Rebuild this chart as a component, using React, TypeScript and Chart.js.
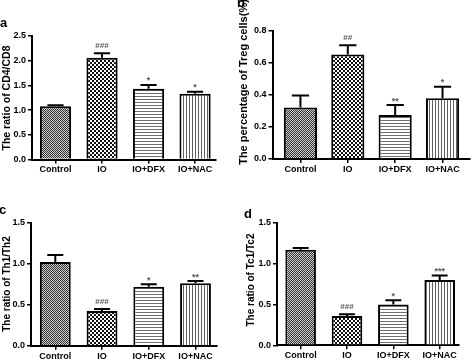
import React, { useEffect, useRef } from "react";
import { Chart, registerables } from "chart.js";

Chart.register(...registerables);

const categories = ["Control", "IO", "IO+DFX", "IO+NAC"];

const cd4cd8Means = [1.08, 2.06, 1.43, 1.33];
const cd4cd8Errors = [0.02, 0.09, 0.08, 0.04];
const cd4cd8Marks = ["", "###", "*", "*"];
const cd4cd8Ticks = [0, 0.5, 1.0, 1.5, 2.0, 2.5];

const tregMeans = [0.32, 0.65, 0.274, 0.378];
const tregErrors = [0.075, 0.058, 0.062, 0.072];
const tregMarks = ["", "##", "**", "*"];
const tregTicks = [0, 0.2, 0.4, 0.6, 0.8];

const th1th2Means = [1.02, 0.423, 0.72, 0.761];
const th1th2Errors = [0.085, 0.025, 0.029, 0.028];
const th1th2Marks = ["", "###", "*", "**"];
const th1th2Ticks = [0, 0.5, 1.0, 1.5];

const tc1tc2Means = [1.17, 0.36, 0.5, 0.8];
const tc1tc2Errors = [0.02, 0.02, 0.05, 0.055];
const tc1tc2Marks = ["", "###", "*", "***"];
const tc1tc2Ticks = [0, 0.5, 1.0, 1.5];

const FONT = '"Liberation Sans", Arial, Helvetica, sans-serif';
const W = 237;
const H = 180;

type PanelCfg = {
  letter: string;
  title: string;
  means: number[];
  errors: number[];
  marks: string[];
  ticks: number[];
  left: number;
  top: number;
  axisLeft: number;
  areaTop: number;
  areaBottom: number;
  areaRight: number;
  xMin: number;
  xMax: number;
  barPct: number;
  titleX: number;
  titleY: number;
  titleSize: number;
  letterX: number;
  letterY: number;
};

const panels: PanelCfg[] = [
  {
    letter: "a", title: "The ratio of CD4/CD8",
    means: cd4cd8Means, errors: cd4cd8Errors, marks: cd4cd8Marks, ticks: cd4cd8Ticks,
    left: 0, top: 0, axisLeft: 32, areaTop: 36, areaBottom: 159.5, areaRight: 216,
    xMin: 0.495, xMax: 4.45, barPct: 0.67,
    titleX: 7, titleY: 98, titleSize: 10.5, letterX: 0, letterY: 27,
  },
  {
    letter: "b", title: "The percentage of Treg cells(%)",
    means: tregMeans, errors: tregErrors, marks: tregMarks, ticks: tregTicks,
    left: 237, top: 0, axisLeft: 35.5, areaTop: 30.5, areaBottom: 159, areaRight: 233,
    xMin: 0.41, xMax: 4.58, barPct: 0.7,
    titleX: 7, titleY: 82, titleSize: 11, letterX: 0, letterY: 7,
  },
  {
    letter: "c", title: "The ratio of Th1/Th2",
    means: th1th2Means, errors: th1th2Errors, marks: th1th2Marks, ticks: th1th2Ticks,
    left: 0, top: 180, axisLeft: 31, areaTop: 42.7, areaBottom: 165.7, areaRight: 217,
    xMin: 0.48, xMax: 4.46, barPct: 0.66,
    titleX: 7, titleY: 104, titleSize: 10, letterX: -1, letterY: 34,
  },
  {
    letter: "d", title: "The ratio of Tc1/Tc2",
    means: tc1tc2Means, errors: tc1tc2Errors, marks: tc1tc2Marks, ticks: tc1tc2Ticks,
    left: 237, top: 180, axisLeft: 40, areaTop: 42.7, areaBottom: 165.3, areaRight: 221.7,
    xMin: 0.49, xMax: 4.41, barPct: 0.66,
    titleX: 14, titleY: 100, titleSize: 10, letterX: 7, letterY: 38,
  },
];

function makePattern(kind: string): CanvasPattern | string {
  const c = document.createElement("canvas");
  const ctx = c.getContext("2d");
  if (!ctx) return "#888";
  if (kind === "fine") {
    c.width = 2; c.height = 2;
    ctx.fillStyle = "#d0d0d0"; ctx.fillRect(0, 0, 2, 2);
    ctx.fillStyle = "#303030"; ctx.fillRect(0, 0, 1, 1); ctx.fillRect(1, 1, 1, 1);
  } else if (kind === "coarse") {
    c.width = 4; c.height = 4;
    ctx.fillStyle = "#ffffff"; ctx.fillRect(0, 0, 4, 4);
    ctx.fillStyle = "#111111"; ctx.fillRect(0, 0, 2, 2); ctx.fillRect(2, 2, 2, 2);
  } else if (kind === "hstripe") {
    c.width = 1; c.height = 3;
    ctx.fillStyle = "#ffffff"; ctx.fillRect(0, 0, 1, 3);
    ctx.fillStyle = "#707070"; ctx.fillRect(0, 0, 1, 1);
  } else {
    c.width = 3; c.height = 1;
    ctx.fillStyle = "#ffffff"; ctx.fillRect(0, 0, 3, 1);
    ctx.fillStyle = "#606060"; ctx.fillRect(0, 0, 1, 1);
  }
  return ctx.createPattern(c, "repeat") || "#888";
}

function Panel({ cfg }: { cfg: PanelCfg }) {
  const ref = useRef<HTMLCanvasElement>(null);
  useEffect(() => {
    if (!ref.current) return;
    const fills = [makePattern("fine"), makePattern("coarse"), makePattern("hstripe"), makePattern("vstripe")];
    const decor = {
      id: "decor" + cfg.letter,
      afterDatasetsDraw(chart: any) {
        const ctx = chart.ctx as CanvasRenderingContext2D;
        const meta = chart.getDatasetMeta(0);
        const ys = chart.scales.y;
        ctx.save();
        meta.data.forEach((el: any, i: number) => {
          const topPx = ys.getPixelForValue(cfg.means[i]);
          const capPx = ys.getPixelForValue(cfg.means[i] + cfg.errors[i]);
          const half = el.width * 0.26;
          ctx.strokeStyle = "#000";
          ctx.lineWidth = 2;
          ctx.beginPath();
          ctx.moveTo(el.x, topPx);
          ctx.lineTo(el.x, capPx);
          ctx.moveTo(el.x - half, capPx);
          ctx.lineTo(el.x + half, capPx);
          ctx.stroke();
          const m = cfg.marks[i];
          if (m) {
            ctx.fillStyle = "#555";
            ctx.textAlign = "center";
            ctx.textBaseline = "alphabetic";
            if (m[0] === "#") {
              ctx.font = `bold 8px ${FONT}`;
              ctx.fillText(m, el.x, capPx - 5);
            } else {
              ctx.font = `bold 9px ${FONT}`;
              ctx.fillText(m, el.x, capPx - 1.5);
            }
          }
        });
        ctx.restore();
        ctx.save();
        ctx.fillStyle = "#000";
        ctx.font = `bold ${cfg.titleSize}px ${FONT}`;
        ctx.translate(cfg.titleX, cfg.titleY);
        ctx.rotate(-Math.PI / 2);
        ctx.textAlign = "center";
        ctx.textBaseline = "middle";
        ctx.fillText(cfg.title, 0, 0);
        ctx.restore();
        ctx.save();
        ctx.fillStyle = "#000";
        ctx.font = `bold 13px ${FONT}`;
        ctx.textAlign = "left";
        ctx.textBaseline = "alphabetic";
        ctx.fillText(cfg.letter, cfg.letterX, cfg.letterY);
        ctx.restore();
      },
    };
    const tickFont = { family: FONT, size: 9, weight: "bold" as const };
    const chart = new Chart(ref.current, {
      type: "bar",
      data: {
        datasets: [
          {
            data: cfg.means.map((v, i) => ({ x: i + 1, y: v })),
            backgroundColor: fills as any,
            borderColor: "#000",
            borderWidth: 2,
            borderSkipped: "start",
            categoryPercentage: 1,
            barPercentage: cfg.barPct,
          } as any,
        ],
      },
      options: {
        animation: false,
        responsive: false,
        devicePixelRatio: 1,
        events: [],
        layout: { padding: { left: 0, top: cfg.areaTop, right: W - cfg.areaRight, bottom: 0 } },
        plugins: { legend: { display: false }, tooltip: { enabled: false }, title: { display: false } },
        scales: {
          x: {
            type: "linear",
            min: cfg.xMin,
            max: cfg.xMax,
            bounds: "data",
            offset: false,
            afterBuildTicks: (s: any) => {
              s.ticks = categories.map((_, i) => ({ value: i + 1 }));
            },
            afterFit: (s: any) => {
              s.height = H - cfg.areaBottom;
            },
            ticks: {
              callback: (v: any) => categories[Math.round(Number(v)) - 1] ?? "",
              font: tickFont,
              color: "#000",
              padding: 1,
              maxRotation: 0,
              autoSkip: false,
            },
            grid: { display: true, offset: false, drawOnChartArea: false, drawTicks: true, tickLength: 4, color: "#000", lineWidth: 1.5 },
            border: { display: true, color: "#000", width: 2 },
          },
          y: {
            type: "linear",
            min: 0,
            max: cfg.ticks[cfg.ticks.length - 1],
            afterBuildTicks: (s: any) => {
              s.ticks = cfg.ticks.map((v) => ({ value: v }));
            },
            afterFit: (s: any) => {
              s.width = cfg.axisLeft;
            },
            ticks: {
              callback: (v: any) => Number(v).toFixed(1),
              font: tickFont,
              color: "#000",
              padding: 2,
            },
            grid: { display: true, drawOnChartArea: false, drawTicks: true, tickLength: 4, color: "#000", lineWidth: 1.5 },
            border: { display: true, color: "#000", width: 2 },
          },
        },
      },
      plugins: [decor],
    } as any);
    return () => chart.destroy();
  }, [cfg]);
  return (
    <canvas
      ref={ref}
      width={W}
      height={H}
      style={{ position: "absolute", left: cfg.left, top: cfg.top, width: W, height: H }}
    />
  );
}

export default function App() {
  return (
    <div style={{ position: "absolute", left: 0, top: 0, width: 474, height: 360, background: "#fff" }}>
      {panels.map((p) => (
        <Panel key={p.letter} cfg={p} />
      ))}
    </div>
  );
}
